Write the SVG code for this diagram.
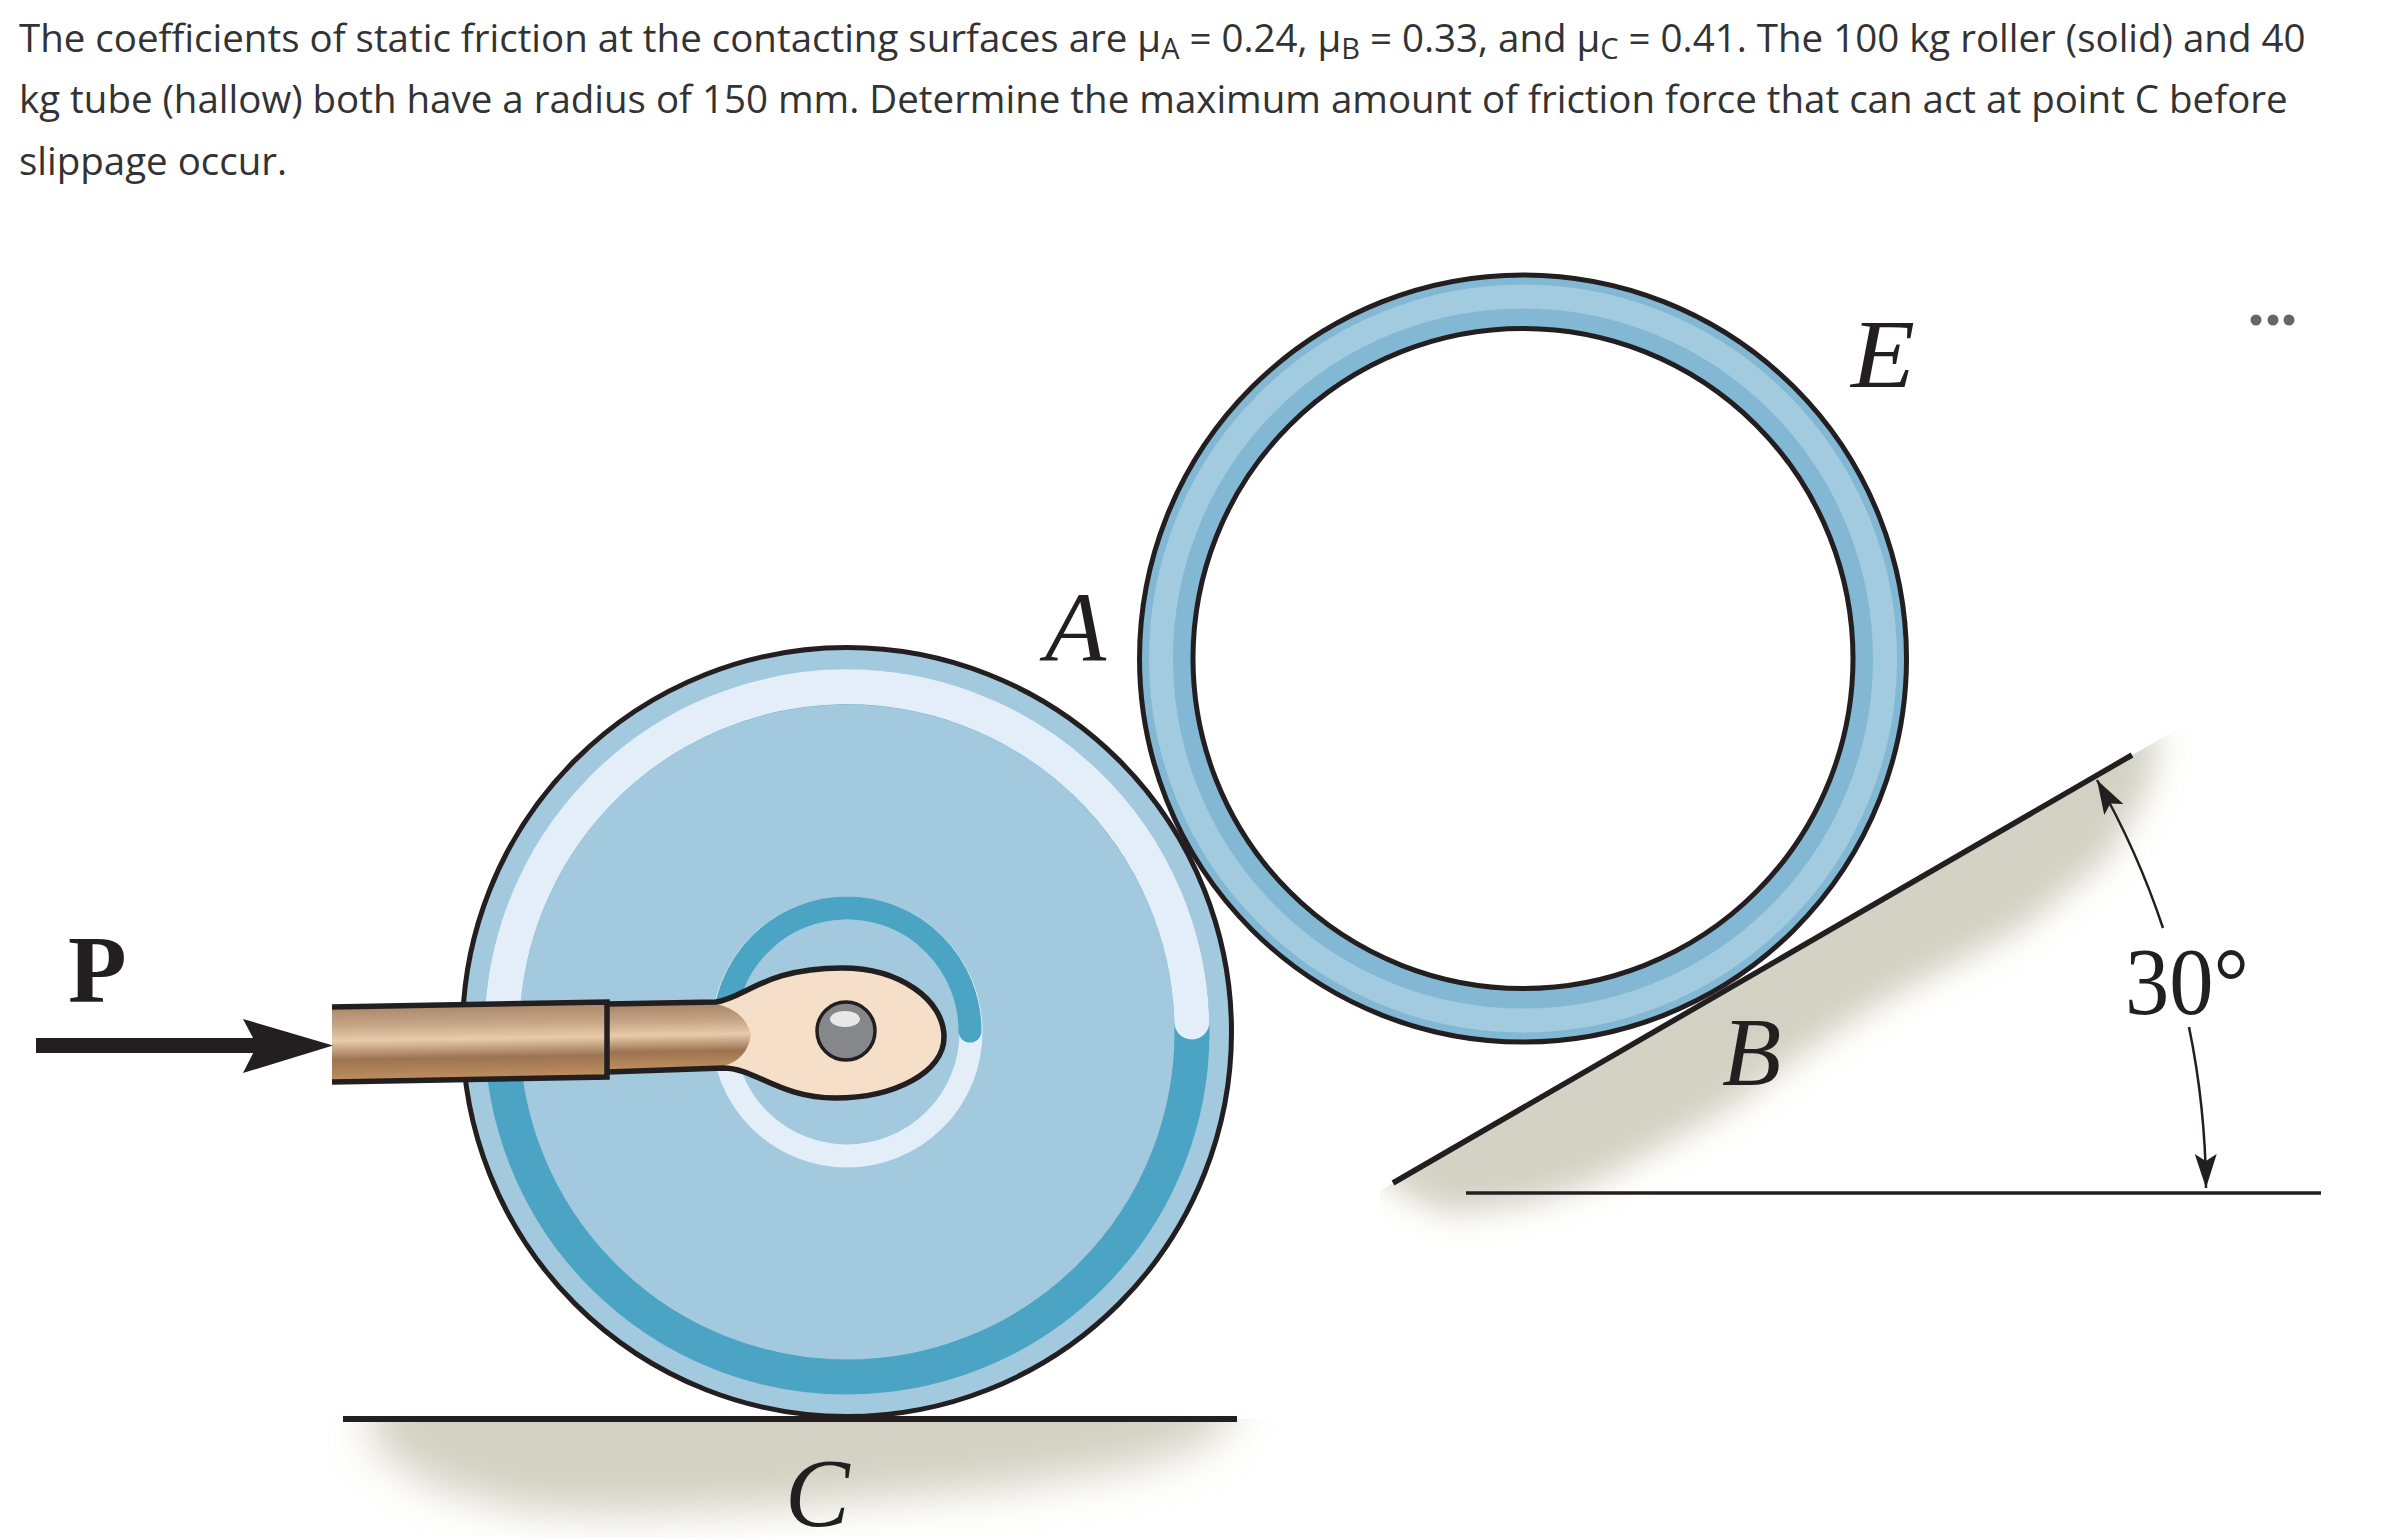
<svg xmlns="http://www.w3.org/2000/svg" width="2382" height="1537" viewBox="0 0 2382 1537">
<style>
.q{font-family:"Open Sans","Noto Sans",sans-serif;font-size:38.47px;fill:#333}
.s{font-size:29px}
.l{font-family:"Liberation Serif","Times New Roman",serif;font-style:italic;fill:#231f20}
.k{fill:none;stroke:#231f20;stroke-width:5}
.d{fill:#666}
</style>
<defs>
<filter id="blur" x="-20%" y="-30%" width="140%" height="160%"><feGaussianBlur stdDeviation="16"/></filter>
<filter id="blurWide" x="-20%" y="-60%" width="140%" height="220%"><feGaussianBlur stdDeviation="22"/></filter>
<clipPath id="belowIncline"><polygon points="1380,1190.5 2250,687 2300,1300 1380,1300"/></clipPath>
<clipPath id="belowGround"><rect x="300" y="1419" width="1000" height="118"/></clipPath>
<linearGradient id="brass" gradientUnits="userSpaceOnUse" x1="469" y1="1005" x2="470.3" y2="1080">
<stop offset="0" stop-color="#ab8768"/><stop offset=".25" stop-color="#c6a688"/><stop offset=".45" stop-color="#e8cbab"/><stop offset=".7" stop-color="#9c7452"/><stop offset="1" stop-color="#c2915f"/>
</linearGradient>
<linearGradient id="brass2" gradientUnits="userSpaceOnUse" x1="680" y1="1005" x2="681" y2="1071">
<stop offset="0" stop-color="#ab8768"/><stop offset=".25" stop-color="#c6a688"/><stop offset=".45" stop-color="#e8cbab"/><stop offset=".7" stop-color="#9c7452"/><stop offset="1" stop-color="#c2915f"/>
</linearGradient>
<marker id="tip" markerUnits="userSpaceOnUse" markerWidth="40" markerHeight="26" refX="34" refY="12" orient="auto"><path d="M0 1L34 12L0 23L7 12Z" fill="#231f20"/></marker>
</defs>
<rect width="2382" height="1537" fill="#fff"/>

<g id="question">
<text class="q" x="19" y="52">The coefficients of static friction at the contacting surfaces are μ<tspan class="s" dy="7">A</tspan><tspan dy="-7"> = 0.24, μ</tspan><tspan class="s" dy="7">B</tspan><tspan dy="-7"> = 0.33, and μ</tspan><tspan class="s" dy="7">C</tspan><tspan dy="-7"> = 0.41. The 100 kg roller (solid) and 40</tspan></text>
<text class="q" x="19" y="113">kg tube (hallow) both have a radius of 150 mm. Determine the maximum amount of friction force that can act at point C before</text>
<text class="q" x="19" y="175">slippage occur.</text>
</g>
<g id="more"><circle class="d" cx="2256" cy="320" r="5.5"/><circle class="d" cx="2273" cy="320" r="5.5"/><circle class="d" cx="2289" cy="320" r="5.5"/></g>

<g id="ground">
<g clip-path="url(#belowGround)"><polygon fill="#d3d1c3" filter="url(#blurWide)" points="372,1380 372,1445 430,1485 520,1509 620,1514 780,1507 1000,1488 1140,1466 1215,1440 1245,1380"/></g>
<line x1="343" y1="1419" x2="1237" y2="1419" stroke="#231f20" stroke-width="6"/>
<text class="l" x="785" y="1526" font-size="97">C</text>
</g>

<g id="incline">
<g clip-path="url(#belowIncline)"><polygon fill="#d3d1c3" filter="url(#blur)" points="1370,1170 2132,725 2160,730 2150,785 2108,858 2022,928 1878,1004 1805,1052 1728,1109 1662,1146 1595,1182 1528,1204 1450,1214 1405,1195"/></g>
<line x1="1466" y1="1193" x2="2321" y2="1193" stroke="#231f20" stroke-width="3.5"/>
<line x1="1393" y1="1183" x2="2132" y2="755" stroke="#231f20" stroke-width="5.5"/>
<text class="l" x="1722" y="1085" font-size="97">B</text>
</g>

<g id="tube">
<circle cx="1523" cy="658.5" r="383.5" fill="#82b8d4"/>
<circle cx="1523" cy="658.5" r="362" fill="none" stroke="#a2cbdf" stroke-width="24"/>
<circle class="k" cx="1523" cy="658.5" r="383.5"/>
<circle cx="1523" cy="658.5" r="330" fill="#fff" stroke="#231f20" stroke-width="5"/>
<text class="l" x="1851" y="387" font-size="97" textLength="64" lengthAdjust="spacingAndGlyphs">E</text>
</g>

<g id="roller">
<circle cx="847" cy="1032" r="384.5" fill="#a2c9dd"/>
<circle cx="847" cy="1032" r="345" fill="none" stroke="#4ba4c4" stroke-width="35"/>
<path d="M502 1032A345 345 0 0 1 1191.86 1022" fill="none" stroke="#e3eef8" stroke-width="35" stroke-linecap="round"/>
<circle cx="847" cy="1032" r="124" fill="none" stroke="#e3eef8" stroke-width="23"/>
<path d="M724 1031A123 123 0 0 1 970 1031" fill="none" stroke="#4ba4c4" stroke-width="23" stroke-linecap="round"/>
<circle class="k" cx="847" cy="1032" r="384.5"/>
<text class="l" x="1045" y="661" font-size="100">A</text>
</g>

<g id="rod">
<path d="M607 1004L716 1002C745 998 765 968 842 968C900 968 944 1000 944 1037C944 1072 895 1098 835 1098C780 1098 755 1068 723 1068L607 1072Z" fill="#f6dfc8"/>
<path d="M607 1006L716 1004Q745 1010 751 1035Q747 1060 723 1066L607 1070Z" fill="url(#brass2)"/>
<path d="M607 1004L716 1002C745 998 765 968 842 968C900 968 944 1000 944 1037C944 1072 895 1098 835 1098C780 1098 755 1068 723 1068L607 1072" fill="none" stroke="#231f20" stroke-width="5.5"/>
<circle cx="846" cy="1031" r="29" fill="#86878a" stroke="#231f20" stroke-width="3.5"/>
<ellipse cx="845" cy="1019" rx="15" ry="8" fill="#e8e8e6"/>
<polygon points="332,1007 607,1002 607,1077 332,1082" fill="url(#brass)"/>
<polyline points="332,1007 607,1002 607,1077 332,1082" fill="none" stroke="#231f20" stroke-width="5.5"/>
</g>

<g id="connectors">
<g id="force-P">
<rect x="36" y="1038" width="222" height="15" fill="#231f20"/>
<polygon points="333,1045.5 243,1019 257,1045.5 243,1073" fill="#231f20"/>
</g>
<path d="M2163 928A830 830 0 0 0 2097 780" fill="none" stroke="#231f20" stroke-width="2.5" marker-end="url(#tip)"/>
<path d="M2189 1027A830 830 0 0 1 2206 1188" fill="none" stroke="#231f20" stroke-width="2.5" marker-end="url(#tip)"/>
</g>

<g id="labels">
<text class="l" style="font-style:normal;font-weight:bold" x="68" y="1002" font-size="96">P</text>
<text class="l" style="font-style:normal" x="2125" y="1014" font-size="96" textLength="124" lengthAdjust="spacingAndGlyphs">30°</text>
</g>
</svg>
